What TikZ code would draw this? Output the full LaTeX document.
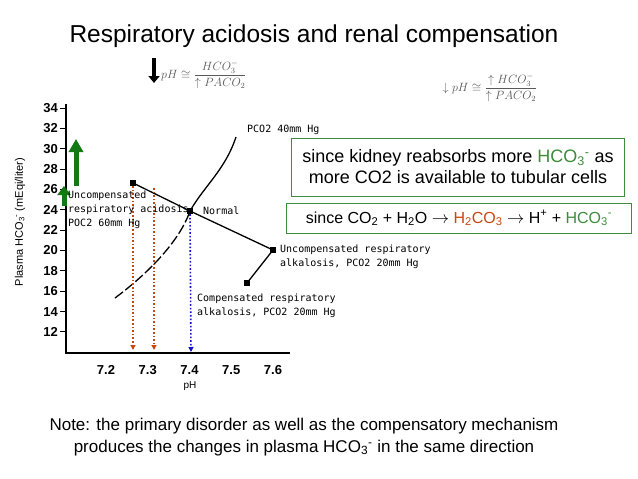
\documentclass[tikz,border=0pt]{standalone}
\usepackage{amsmath}
\usepackage{fontspec}
\setmainfont{Liberation Sans}
\newfontfamily\gf{DejaVu Sans Mono}
\usetikzlibrary{arrows.meta}
\definecolor{gbox}{RGB}{60,140,60}
\definecolor{garr}{RGB}{20,120,20}
\definecolor{orr}{RGB}{200,70,20}
\definecolor{bl}{RGB}{20,20,200}
\newcommand{\hco}{HCO\textsubscript{3}\textsuperscript{-}}
\tikzset{
 lab/.style={font=\gf\fontsize{10}{14}\selectfont,anchor=west,inner sep=0pt,align=left},
 tick/.style={font=\bfseries\fontsize{13}{14}\selectfont,inner sep=0pt},
 gbx/.style={draw=gbox,thick,font=\fontsize{18}{21}\selectfont,align=center,inner sep=3pt},
 pt/.style={fill=black,minimum size=6pt,inner sep=0pt},
 dot/.style={dotted,line width=1.6pt,-{Triangle[length=5pt,width=5pt]}}
}
\begin{document}
\begin{tikzpicture}[x=1pt,y=-1pt]
\useasboundingbox (0,0) rectangle (638,479);
\fill[white] (0,0) rectangle (638,479);
\node[font=\fontsize{24.5}{28}\selectfont] (title) at (314,36) {Respiratory acidosis and renal compensation};
% formulas
\node[font=\fontsize{12}{13}\selectfont,text=gray!70!black,anchor=west,inner sep=0pt] (f1) at (161,75) {$pH\cong\dfrac{HCO_3^-}{\uparrow PACO_2}$};
\draw[line width=3.5pt,-{Triangle[length=7pt,width=11pt]}] (154,58) coordinate (a1) -- (154,83) coordinate (a2);
\node[font=\fontsize{12}{13}\selectfont,text=gray!70!black] (f2) at (490,88) {$\downarrow pH\cong\dfrac{\uparrow HCO_3^-}{\uparrow PACO_2}$};
% axes
\coordinate (o) at (66,353);
\draw[line width=1.2pt] (66,104) coordinate (yt) -- (o) -- (290,353) coordinate (xe);
\foreach \v in {12,14,...,34}{
 \draw[line width=1pt] (60,{108+(34-\v)*10.18}) -- (66,{108+(34-\v)*10.18});
 \node[tick,anchor=east] at (58,{108+(34-\v)*10.18}) {\v};}
\foreach \p/\l in {7.2/7.2,7.3/7.3,7.4/7.4,7.5/7.5,7.6/7.6}
 \node[tick] at ({106+(\p-7.2)*417.5},370) {\l};
\node[font=\fontsize{10}{11}\selectfont] (ph) at (190,386) {pH};
\node[font=\fontsize{11}{12}\selectfont,rotate=90] (yl) at (20,222) {Plasma \hco\ (mEqi/liter)};
% curve
\node[pt] (acd) at (133,183) {};
\node[pt] (nor) at (190,211) {};
\node[pt] (alk) at (273,250) {};
\node[pt] (cmp) at (247,283) {};
\draw[line width=1.3pt,dash pattern=on 10pt off 3pt] (115,298) coordinate (c0) .. controls (150,272) and (180,240) .. (nor.center);
\draw[line width=1.3pt] (nor.center) .. controls (205,185) and (225,170) .. (236,137) coordinate (c1);
\draw[line width=1.3pt] (acd.center) -- (nor.center) -- (alk.center) -- (cmp.center);
% dotted arrows
\coordinate (b1) at (133,350); \coordinate (b2) at (154,350); \coordinate (b3) at (191,352);
\draw[dot,orr] (acd.south) -- (b1);
\draw[dot,orr] (154,188) coordinate (t2) -- (b2);
\draw[dot,bl] (nor.south) -- (b3);
% green arrows
\draw[garr,line width=5pt,-{Triangle[length=13pt,width=14pt]}] (76,186) coordinate (g1) -- (76,139) coordinate (g2);
\draw[garr,line width=5pt,-{Triangle[length=9pt,width=13pt]}] (64,206) coordinate (g3) -- (64,186) coordinate (g4);
% labels
\node[lab] (l1) at (68,210) {Uncompensated\\respiratory acidosis\\POC2 60mm Hg};
\node[lab] (l2) at (203,211) {Normal};
\node[lab] (l3) at (247,130) {PCO2 40mm Hg};
\node[lab] (l4) at (280,257) {Uncompensated respiratory\\alkalosis, PCO2 20mm Hg};
\node[lab] (l5) at (197,306) {Compensated respiratory\\alkalosis, PCO2 20mm Hg};
% boxes
\node[gbx,minimum width=333pt,minimum height=58pt] (bx1) at (458,167) {since kidney reabsorbs more \textcolor{gbox}{\hco} as\\more CO2 is available to tubular cells};
\node[gbx,minimum width=345pt,minimum height=30pt,font=\fontsize{16}{20}\selectfont] (bx2) at (459,218) {since CO\textsubscript{2} + H\textsubscript{2}O $\rightarrow$ \textcolor{orr}{H\textsubscript{2}CO\textsubscript{3}} $\rightarrow$ H\textsuperscript{+} + \textcolor{gbox}{\hco}};
% note
\node[font=\fontsize{17}{22}\selectfont,align=center] (note) at (304,437) {Note: the primary disorder as well as the compensatory mechanism\\produces the changes in plasma \hco\ in the same direction};
\end{tikzpicture}
\end{document}
